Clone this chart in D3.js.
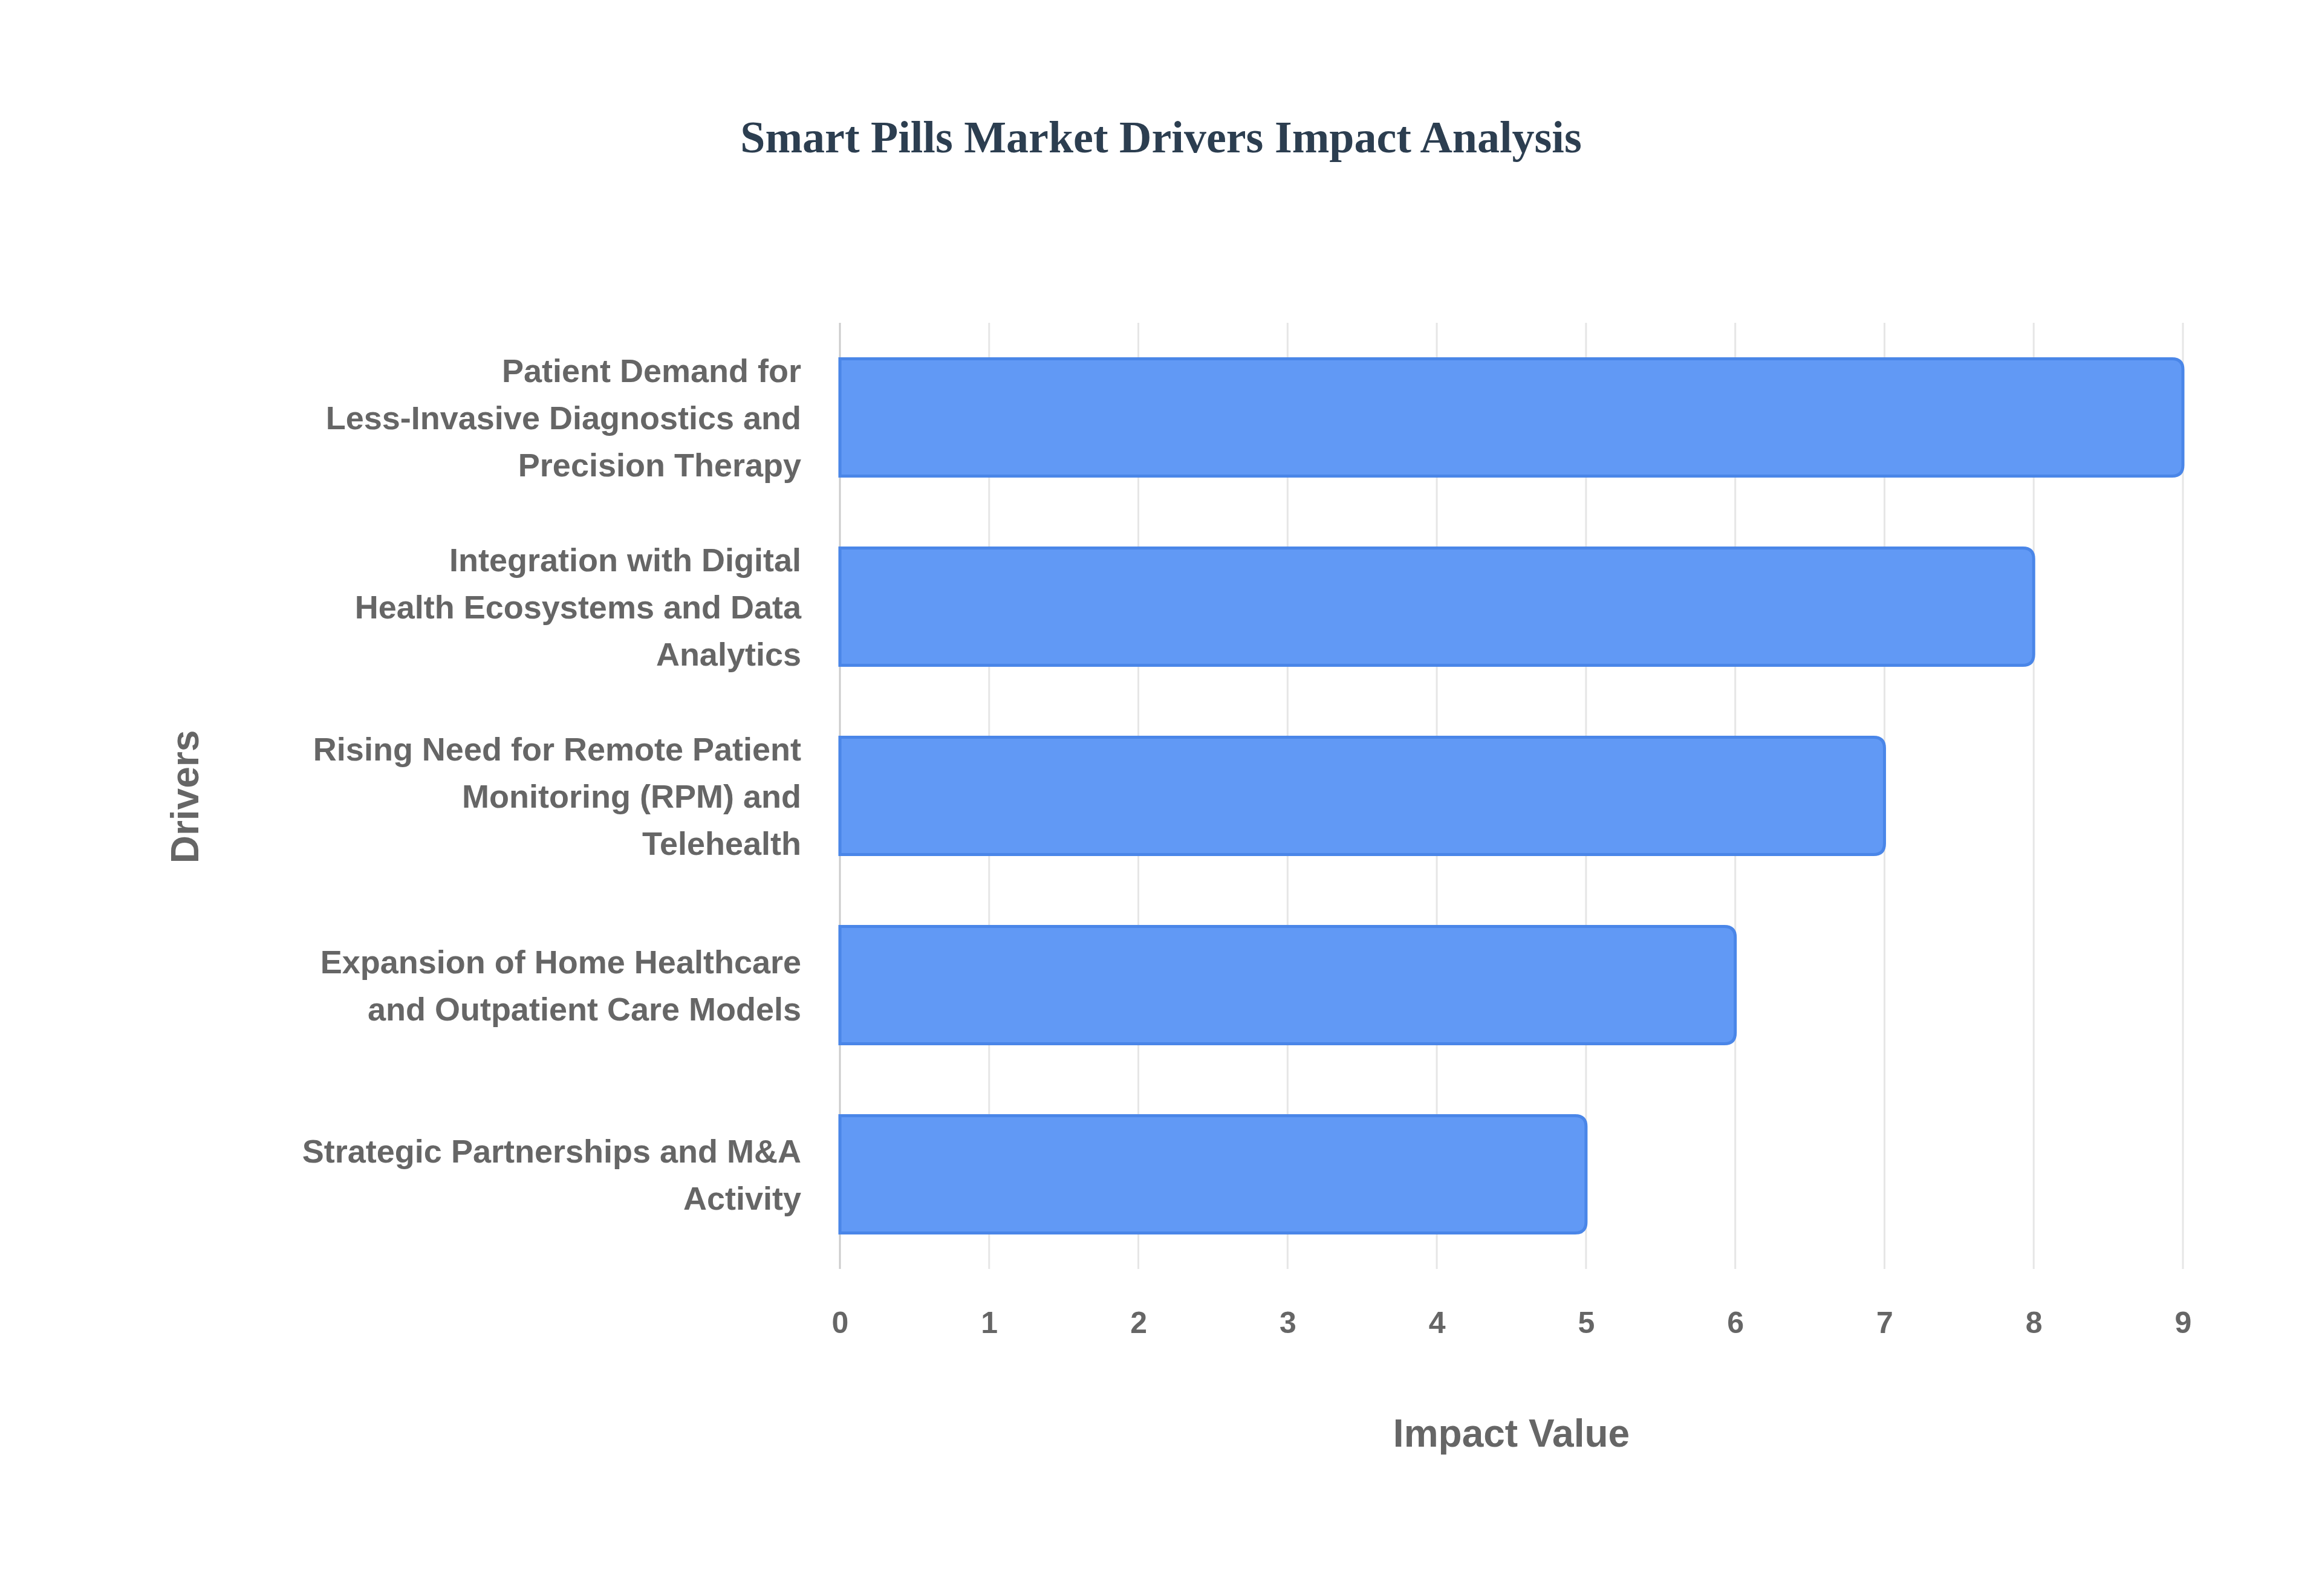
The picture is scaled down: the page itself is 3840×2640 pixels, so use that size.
<!DOCTYPE html>
<html><head><meta charset="utf-8">
<script src="https://cdn.jsdelivr.net/npm/d3@7"></script>
<style>body{margin:0;background:#fff}</style>
</head><body><div id="chart"></div>
<script>
var drivers = [
  ["Patient Demand for", "Less-Invasive Diagnostics and", "Precision Therapy"],
  ["Integration with Digital", "Health Ecosystems and Data", "Analytics"],
  ["Rising Need for Remote Patient", "Monitoring (RPM) and", "Telehealth"],
  ["Expansion of Home Healthcare", "and Outpatient Care Models"],
  ["Strategic Partnerships and M&A", "Activity"]
];
var impact = [9, 8, 7, 6, 5];
var xTicks = [0, 1, 2, 3, 4, 5, 6, 7, 8, 9];

var svgWidth = 3840, svgHeight = 2640;
var margin = {top: 534, right: 220, bottom: 541, left: 1389};
var width = svgWidth - margin.left - margin.right;
var height = svgHeight - margin.top - margin.bottom;

var svg = d3.select("#chart").append("svg")
  .attr("width", svgWidth).attr("height", svgHeight);

svg.append("text")
  .attr("x", svgWidth / 2).attr("y", 252)
  .attr("text-anchor", "middle")
  .style("font-family", "Liberation Serif, serif")
  .style("font-weight", "bold").style("font-size", "74px")
  .style("fill", "#2c3e50")
  .text("Smart Pills Market Drivers Impact Analysis");

var g = svg.append("g").attr("transform", `translate(${margin.left},${margin.top})`);

var x = d3.scaleLinear().domain([0, 9]).range([0, width - 10]);
var y = d3.scaleBand().domain(d3.range(drivers.length)).range([0, height]).paddingInner(0.38).paddingOuter(0.19);

// gridlines
g.selectAll(".grid").data(xTicks).enter().append("line")
  .attr("x1", d => x(d)).attr("x2", d => x(d))
  .attr("y1", 0).attr("y2", height)
  .attr("stroke", d => d === 0 ? "#cccccc" : "#e6e6e6")
  .attr("stroke-width", 3);

// bars with rounded right end
g.selectAll(".bar").data(impact).enter().append("path")
  .attr("d", function (d, i) {
    var w = x(d), h = y.bandwidth(), t = y(i), r = 18;
    return `M0,${t}H${w - r}Q${w},${t} ${w},${t + r}V${t + h - r}Q${w},${t + h} ${w - r},${t + h}H0Z`;
  })
  .attr("fill", "#6199f5")
  .attr("stroke", "#4a86e8")
  .attr("stroke-width", 5);

var xAxis = g.append("g").attr("transform", `translate(0,${height})`)
  .call(d3.axisBottom(x).tickValues(xTicks).tickSize(0).tickPadding(70));
xAxis.select(".domain").remove();
xAxis.selectAll("text")
  .style("font-family", "Liberation Sans, Arial, sans-serif")
  .style("font-weight", "bold").style("font-size", "50px").style("fill", "#666");

// category labels
var lh = 78;
g.selectAll(".cat").data(drivers).enter().append("text")
  .attr("text-anchor", "end")
  .style("font-family", "Liberation Sans, Arial, sans-serif")
  .style("font-weight", "bold").style("font-size", "54px").style("fill", "#666")
  .each(function (lines, i) {
    var cy = y(i) + y.bandwidth() / 2;
    var y0 = cy - (lines.length - 1) * lh / 2 + 19;
    d3.select(this).selectAll("tspan").data(lines).enter().append("tspan")
      .attr("x", -64).attr("y", (l, j) => y0 + j * lh).text(l => l);
  });

svg.append("text")
  .attr("x", margin.left + width / 2 - 5).attr("y", 2393)
  .attr("text-anchor", "middle")
  .style("font-family", "Liberation Sans, Arial, sans-serif")
  .style("font-weight", "bold").style("font-size", "64px").style("fill", "#666")
  .text("Impact Value");

svg.append("text")
  .attr("transform", "translate(328,1318) rotate(-90)")
  .attr("text-anchor", "middle")
  .style("font-family", "Liberation Sans, Arial, sans-serif")
  .style("font-weight", "bold").style("font-size", "64px").style("fill", "#666")
  .text("Drivers");
</script></body></html>
